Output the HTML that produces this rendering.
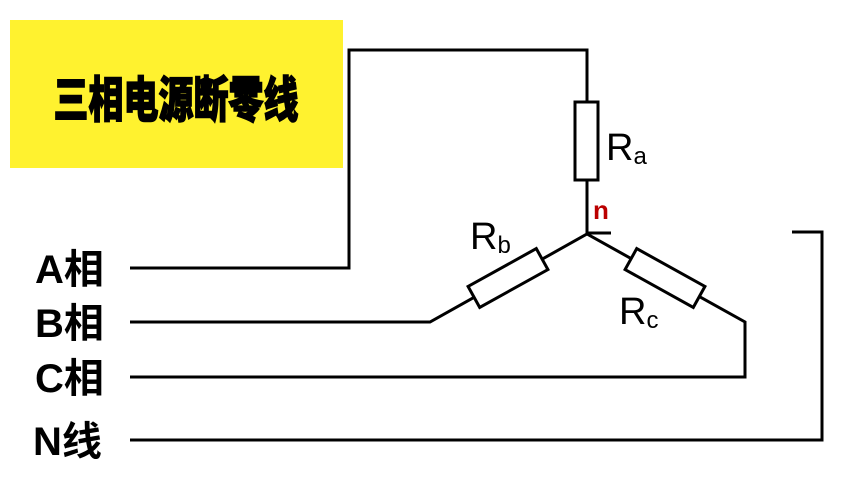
<!DOCTYPE html>
<html><head><meta charset="utf-8"><style>
body{margin:0;background:#fff;width:864px;height:486px;overflow:hidden}
</style></head><body>
<svg width="864" height="486" viewBox="0 0 864 486" xmlns="http://www.w3.org/2000/svg">
<rect x="10" y="20" width="333" height="148" fill="#fff22f"/>
<text transform="translate(176,117) scale(1,1.4)" x="0" y="0" text-anchor="middle" font-family="Liberation Sans, Noto Sans CJK SC, sans-serif" font-weight="900" font-size="35" fill="#000" stroke="#000" stroke-width="1">三相电源断零线</text>
<g stroke="#000" stroke-width="3" fill="none">
<polyline points="130,268 349,268 349,50 587,50 587,102"/>
<rect x="575" y="102" width="23" height="78" fill="#fff"/>
<polyline points="587,180 587,234"/>
<line x1="587" y1="233" x2="611" y2="233"/>
<polyline points="130,322 430,322 587,234 745,322 745,377 130,377"/>
<polyline points="130,440 822,440 822,232 792,232"/>
<rect x="-39" y="-12" width="78" height="24" fill="#fff" transform="translate(508,278) rotate(-29)"/>
<rect x="-39" y="-12" width="78" height="24" fill="#fff" transform="translate(665,278) rotate(29)"/>
</g>
<g font-family="Liberation Sans, Noto Sans CJK SC, sans-serif" font-weight="bold" fill="#000">
<text x="35" y="283" font-size="40">A相</text>
<text x="35" y="337" font-size="40">B相</text>
<text x="35" y="392" font-size="40">C相</text>
<text x="33" y="455" font-size="40">N线</text>
<text x="606" y="160" font-size="38" font-weight="normal">R<tspan font-size="24" dy="4">a</tspan></text>
<text x="470" y="249" font-size="38" font-weight="normal">R<tspan font-size="24" dy="4">b</tspan></text>
<text x="619" y="324" font-size="38" font-weight="normal">R<tspan font-size="24" dy="4">c</tspan></text>
<text x="593" y="219" font-size="26" fill="#b00">n</text>
</g>
</svg>
</body></html>
